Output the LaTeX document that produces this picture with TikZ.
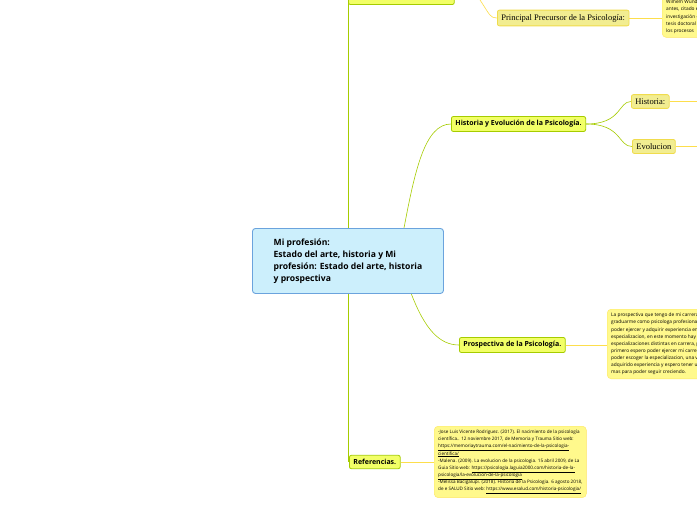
\documentclass[tikz,border=0pt]{standalone}
\usepackage{fontspec}
\setmainfont{Open Sans}
\newfontfamily\serifx{Liberation Serif}
\newcommand\myul[1]{\underline{#1}}
\begin{document}
\begin{tikzpicture}[x=1pt,y=-1pt,
  green/.style={draw=lime!60!olive, line width=0.8pt, fill=lime!35!yellow!60, rounded corners=2pt, font=\bfseries\fontsize{7}{8}\selectfont, inner sep=4pt},
  olive/.style={draw=yellow!70!brown!80, line width=0.8pt, fill=yellow!70!olive!40, rounded corners=2pt, font=\serifx\fontsize{8.5}{9}\selectfont, inner sep=4pt},
  note/.style={draw=yellow!75!orange!60, fill=yellow!45, rounded corners=4pt, font=\fontsize{4.8}{7.1}\selectfont, align=left, inner sep=4pt, anchor=north west},
  gl/.style={draw=lime!60!olive, line width=0.6pt},
  yl/.style={draw=yellow!70!orange!70, line width=0.6pt}]
\useasboundingbox (0,0) rectangle (697,520);
\fill[white] (0,0) rectangle (697,520);
\draw[gl, line width=0.9pt] (348,0) -- (348,462);
\coordinate (c1) at (404,228);
\coordinate (c2) at (411,293);
\node[green, anchor=west] (hist) at (451,124) {Historia y Evolución de la Psicología.};
\node[green, anchor=west] (pros) at (459,345) {Prospectiva de la Psicología.};
\node[green, anchor=west] (ref) at (349,462) {Referencias.};
\node[green, anchor=west] (nac) at (348,-3) {Nacimiento de la Psicología:};
\draw[gl] (c1) .. controls (415,170) and (425,124) .. (hist.west);
\draw[gl] (c2) .. controls (425,330) and (440,345) .. (pros.west);
\node[olive, anchor=west] (prec) at (497,18) {Principal Precursor de la Psicología:};
\draw[yl] (480,0) .. controls (490,15) and (490,18) .. (prec.west);
\node[olive, anchor=west] (hi) at (631,101.5) {Historia:};
\node[olive, anchor=west] (ev) at (632,146.5) {Evolucion};
\draw[gl] (hist.east) .. controls (622,124) and (618,101.5) .. (hi.west);
\draw[gl] (hist.east) .. controls (622,124) and (618,146.5) .. (ev.west);
\draw[yl] (hi.east) -- (697,101.5);
\draw[yl] (ev.east) -- (697,146.5);
\node[note] (n1) at (662,-4) {Wilhem Wundt, en Leipzig,\\antes, citado en\\investigación en\\tesis doctoral\\los procesos};
\draw[yl] (prec.east) -- (n1.west |- prec.east);
\node[note] (n2) at (607,309) {La prospectiva que tengo de mi carrera es\\graduarme como psicologa profesional para\\poder ejercer y adquirir experiencia en alguna\\especializacion, en este momento hay muchas\\especializaciones distintas en carrera, pero\\primero espero poder ejercer mi carrera, para\\poder escoger la especializacion, una vez ya\\adquirido experiencia y espero tener un poco\\mas para poder seguir creciendo.};
\draw[yl] (pros.east) -- (n2.west |- pros.east);
\node[note, font=\fontsize{4.6}{7.1}\selectfont] (n3) at (434,426) {-Jose Luis Vicente Rodriguez. (2017). El nacimiento de la psicología\\científica.. 12 noviembre 2017, de Memoria y Trauma Sitio web:\\\myul{https://memoriaytrauma.com/el-nacimiento-de-la-psicologia-}\\\myul{cientifica/}\\-Malena. (2009). La evolucion de la psicologia. 15 abril 2009, de La\\Guia Sitio web: \myul{https://psicologia.laguia2000.com/historia-de-la-}\\\myul{psicologia/la-evolucion-de-la-psicologia}\\-Melissa Bacigalupi. (2018). Historia de la Psicologia. 6 agosto 2018,\\de e SALUD Sitio web: \myul{https://www.esalud.com/historia-psicologia/}};
\draw[yl] (ref.east) -- (n3.west |- ref.east);
\node[draw=cyan!60!blue!60, line width=0.9pt, fill=cyan!20, rounded corners=3pt, minimum width=191pt, minimum height=65pt, anchor=north west, align=left, font=\bfseries\fontsize{8.6}{12}\selectfont] (main) at (252,228) {Mi profesión:\\Estado del arte, historia y Mi\\profesión: Estado del arte, historia\\y prospectiva};
\end{tikzpicture}
\end{document}
